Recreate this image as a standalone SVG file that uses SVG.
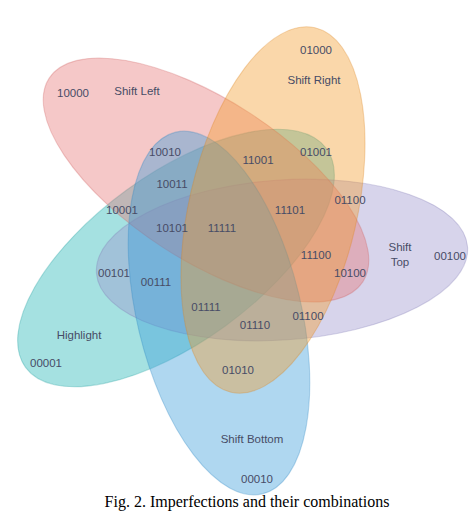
<svg xmlns="http://www.w3.org/2000/svg" width="474" height="517" viewBox="0 0 474 517">
<style>
.set{fill-opacity:0.4;stroke-width:1.1;stroke-opacity:0.3}
.lbl{font-family:"Liberation Sans",Arial,sans-serif;font-size:11.5px;fill:#474c66;text-anchor:middle}
.cap{font-family:"Liberation Serif","Times New Roman",serif;font-size:16px;fill:#000;text-anchor:middle}
</style>
<rect width="474" height="517" fill="#fff"/>
<g id="sets">
<g id="highlight"><ellipse class="set" cx="176" cy="258" rx="186" ry="84" transform="rotate(-36 176 258)" fill="#1eb4b4" stroke="#1a9a9a"/></g>
<g id="shift-top"><ellipse class="set" cx="282" cy="260" rx="186" ry="80" transform="rotate(-4 282 260)" fill="#9b94cd" stroke="#7d76b4"/></g>
<g id="shift-left"><ellipse class="set" cx="206" cy="180" rx="187" ry="80" transform="rotate(33 206 180)" fill="#e67676" stroke="#cc6060"/></g>
<g id="shift-bottom"><ellipse class="set" cx="219" cy="313" rx="186" ry="82" transform="rotate(76.5 219 313)" fill="#379bda" stroke="#2b86c0"/></g>
<g id="shift-right"><ellipse class="set" cx="273" cy="210" rx="187" ry="84" transform="rotate(103 273 210)" fill="#f39b2b" stroke="#d98520"/></g>
</g>
<g id="connectors"></g>
<g id="labels">
<text class="lbl" x="73" y="97">10000</text>
<text class="lbl" x="137" y="95">Shift Left</text>
<text class="lbl" x="316" y="54">01000</text>
<text class="lbl" x="314" y="84">Shift Right</text>
<text class="lbl" x="165" y="156">10010</text>
<text class="lbl" x="258" y="164">11001</text>
<text class="lbl" x="316" y="156">01001</text>
<text class="lbl" x="172" y="188">10011</text>
<text class="lbl" x="122" y="214">10001</text>
<text class="lbl" x="290" y="214">11101</text>
<text class="lbl" x="350" y="204">01100</text>
<text class="lbl" x="172" y="232">10101</text>
<text class="lbl" x="222" y="232">11111</text>
<text class="lbl" x="400" y="251">Shift</text>
<text class="lbl" x="400" y="266">Top</text>
<text class="lbl" x="450" y="260">00100</text>
<text class="lbl" x="316" y="259">11100</text>
<text class="lbl" x="350" y="277">10100</text>
<text class="lbl" x="114" y="277">00101</text>
<text class="lbl" x="156" y="286">00111</text>
<text class="lbl" x="206" y="311">01111</text>
<text class="lbl" x="255" y="329">01110</text>
<text class="lbl" x="308" y="320">01100</text>
<text class="lbl" x="79" y="339">Highlight</text>
<text class="lbl" x="46" y="367">00001</text>
<text class="lbl" x="238" y="374">01010</text>
<text class="lbl" x="252" y="443">Shift Bottom</text>
<text class="lbl" x="257" y="483">00010</text>
</g>
<text id="caption" class="cap" x="247" y="507">Fig. 2. Imperfections and their combinations</text>
</svg>
